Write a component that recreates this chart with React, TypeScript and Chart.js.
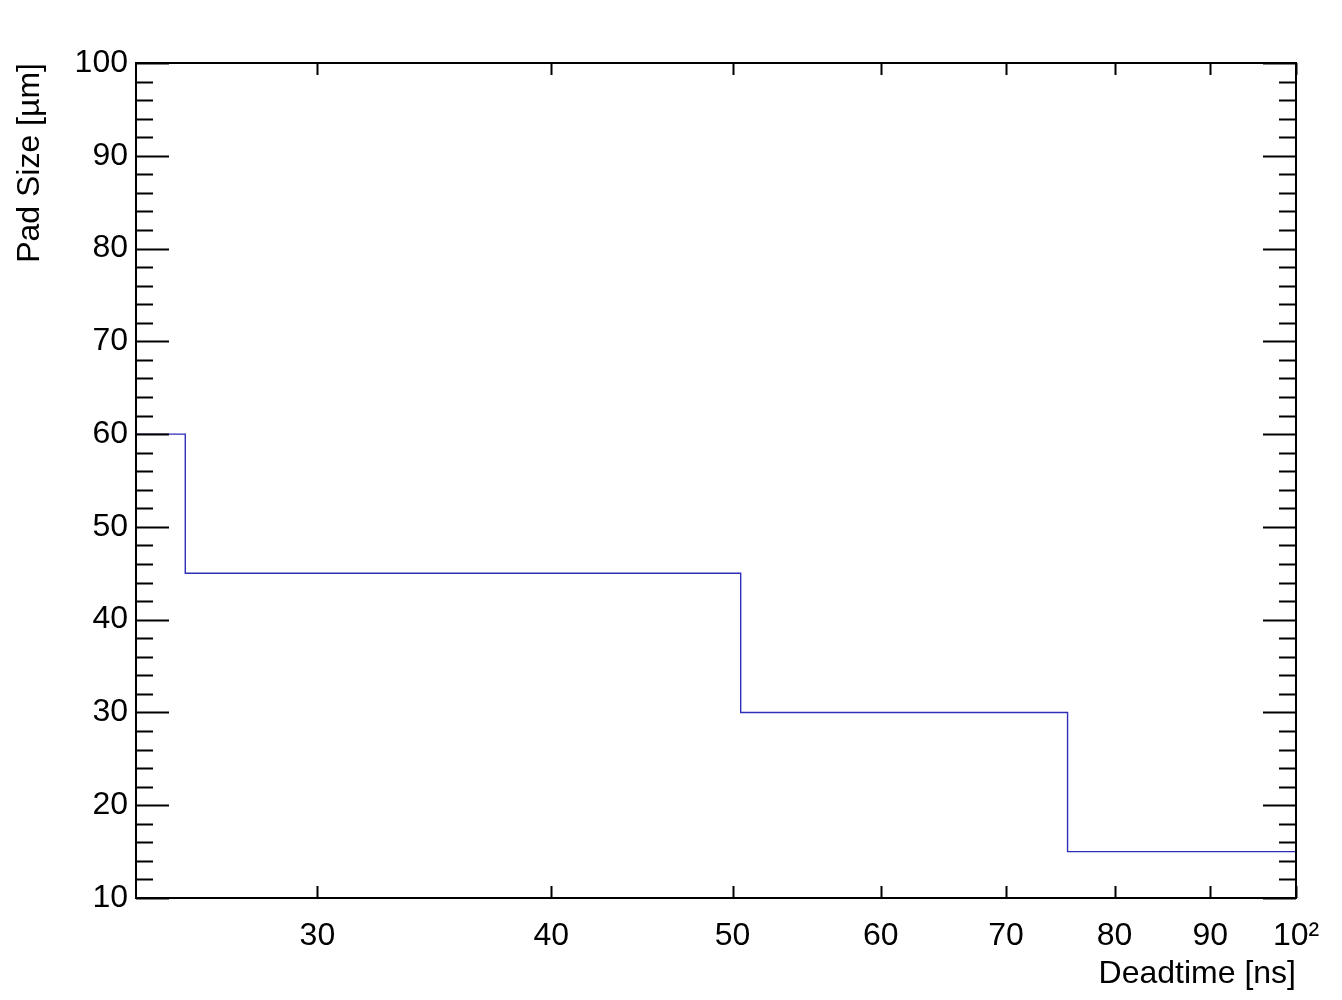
import React, { useEffect, useRef } from "react";
import { Chart, registerables } from "chart.js";

Chart.register(...registerables);

// Data (histogram-like step function)
const deadtimeEdges = [24, 25.5, 50.5, 75.5, 100];
const padSizes = [60, 45, 30, 15];
const xTickValues = [30, 40, 50, 60, 70, 80, 90, 100];
const yMajorStep = 10;
const yMinorStep = 2;
const yMin = 10;
const yMax = 100;
const xMin = 24;
const xMax = 100;

const FONT = "'Liberation Sans', Arial, Helvetica, sans-serif";

const frameTicksPlugin = {
  id: "frameTicks",
  afterDraw(chart: any) {
    const { ctx, chartArea } = chart;
    const { left, right, top, bottom } = chartArea;
    const xs = chart.scales.x;
    const ys = chart.scales.y;
    ctx.save();
    ctx.strokeStyle = "#000";
    ctx.lineWidth = 2;
    // y ticks
    for (let v = yMin; v <= yMax + 1e-9; v += yMinorStep) {
      const isMajor = Math.abs(v / yMajorStep - Math.round(v / yMajorStep)) < 1e-6;
      const len = isMajor ? 33 : 17;
      const py = Math.round(ys.getPixelForValue(v)) + 0.5;
      ctx.beginPath();
      ctx.moveTo(left, py);
      ctx.lineTo(left + len, py);
      ctx.moveTo(right, py);
      ctx.lineTo(right - len, py);
      ctx.stroke();
    }
    // x ticks
    for (const v of xTickValues) {
      const px = Math.round(xs.getPixelForValue(v)) + 0.5;
      ctx.beginPath();
      ctx.moveTo(px, bottom);
      ctx.lineTo(px, bottom - 12);
      ctx.moveTo(px, top);
      ctx.lineTo(px, top + 12);
      ctx.stroke();
    }
    // frame
    ctx.strokeRect(left, top, right - left, bottom - top);
    ctx.restore();
  },
};

export default function App() {
  const canvasRef = useRef<HTMLCanvasElement | null>(null);

  useEffect(() => {
    const canvas = canvasRef.current;
    if (!canvas) return;
    const points = deadtimeEdges.map((x, i) => ({
      x,
      y: padSizes[Math.min(i, padSizes.length - 1)],
    }));
    const font = { family: FONT, size: 32 };
    const chart = new Chart(canvas, {
      type: "line",
      data: {
        datasets: [
          {
            data: points,
            stepped: "before",
            borderColor: "#2e2eb8",
            borderWidth: 1.4,
            pointRadius: 0,
            fill: false,
          },
        ],
      },
      options: {
        responsive: false,
        animation: false,
        devicePixelRatio: 1,
        layout: { padding: { top: 63, right: 46, left: 0, bottom: 0 } },
        plugins: {
          legend: { display: false },
          tooltip: { enabled: false },
        },
        scales: {
          x: {
            type: "logarithmic",
            min: xMin,
            max: xMax,
            afterBuildTicks: (s: any) => {
              s.ticks = xTickValues.map((v) => ({ value: v }));
            },
            afterFit: (s: any) => {
              s.height = 102;
            },
            grid: { display: false, drawTicks: false },
            border: { display: false },
            ticks: {
              autoSkip: false,
              maxRotation: 0,
              minRotation: 0,
              color: "#000",
              font,
              padding: 19,
              callback: (v: any) => (Number(v) === 100 ? "10²" : String(v)),
            },
            title: {
              display: true,
              text: "Deadtime [ns]",
              align: "end",
              color: "#000",
              font,
              padding: { top: 7, bottom: 7 },
            },
          },
          y: {
            type: "linear",
            min: yMin,
            max: yMax,
            afterFit: (s: any) => {
              s.width = 136;
            },
            grid: { display: false, drawTicks: false },
            border: { display: false },
            ticks: {
              stepSize: yMajorStep,
              color: "#000",
              font,
              padding: 8,
            },
            title: {
              display: true,
              text: "Pad Size [µm]",
              align: "end",
              color: "#000",
              font,
              padding: { top: 11, bottom: 11 },
            },
          },
        },
      } as any,
      plugins: [frameTicksPlugin],
    });
    return () => chart.destroy();
  }, []);

  return (
    <div style={{ position: "absolute", left: 0, top: 0, width: 1342, height: 1000, background: "#fff" }}>
      <canvas ref={canvasRef} width={1342} height={1000} style={{ width: 1342, height: 1000 }} />
    </div>
  );
}
